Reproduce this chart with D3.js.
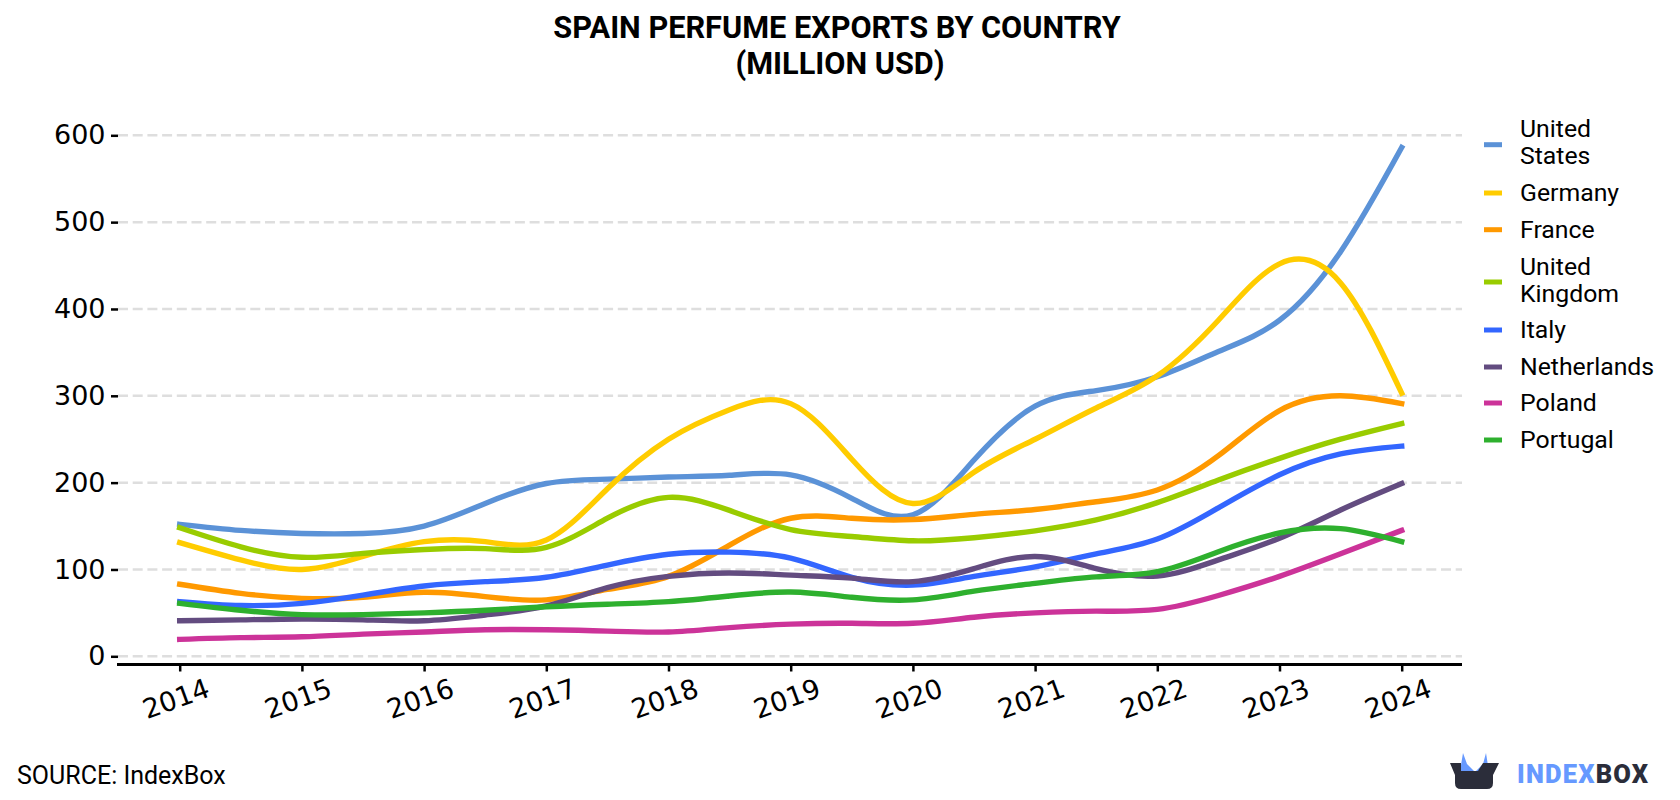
<!DOCTYPE html>
<html>
<head>
<meta charset="utf-8">
<script src="https://cdn.jsdelivr.net/npm/d3@7"></script>
<style>
  html, body { margin: 0; padding: 0; background: #fff; }
  svg { display: block; }
  text { fill: #000; }
</style>
</head>
<body>
<svg id="chart" width="1680" height="800"></svg>
<script>
const years = [2014, 2015, 2016, 2017, 2018, 2019, 2020, 2021, 2022, 2023, 2024];
const yTicks = [0, 100, 200, 300, 400, 500, 600];

// Readings are taken every half year, from 2014 to 2024
const periods = [2014, 2014.5, 2015, 2015.5, 2016, 2016.5, 2017, 2017.5, 2018, 2018.5, 2019,
                 2019.5, 2020, 2020.5, 2021, 2021.5, 2022, 2022.5, 2023, 2023.5, 2024];

const unitedStates  = [152, 145, 141.5, 141.5, 150, 176, 199, 204, 206.5, 208.5, 209, 182, 163, 226, 288, 306, 322, 351, 387, 466, 586];
const germany       = [131, 111, 100, 115, 132, 132, 134, 193, 250, 284, 291, 227, 176, 212, 250, 286, 323, 387, 452, 430, 303];
const france        = [83, 72.5, 66.7, 68, 73.7, 68.7, 65, 77, 92, 128, 159, 159, 157.5, 163.5, 169, 178, 191.5, 231, 283, 300, 291];
const unitedKingdom = [148, 126, 114, 118.5, 123, 124, 125.5, 159, 183, 168, 146, 138, 133, 136.5, 144.5, 157, 177, 203, 228, 250, 268];
const italy         = [63, 58.5, 61, 70.5, 81, 86, 91, 105, 117.5, 120, 113, 91, 82, 92, 103, 118, 135, 171, 209, 233, 242];
const netherlands   = [41, 42, 43, 42, 41, 47.5, 58, 79, 92, 96, 93.5, 90, 86, 101, 115, 101, 92.5, 111, 136, 168.5, 199];
const poland        = [19.5, 21.5, 22.5, 25.5, 28, 30.5, 30.5, 29, 28, 33, 37, 38, 38, 45, 50, 52, 54, 70, 92, 118, 145];
const portugal      = [61, 53, 48, 48, 50, 53, 57, 60, 63, 69.5, 74, 68, 65, 75, 84, 91.5, 97.5, 120.5, 142, 147, 132];

const seriesNames = [["United", "States"], ["Germany"], ["France"], ["United", "Kingdom"],
                     ["Italy"], ["Netherlands"], ["Poland"], ["Portugal"]];
const seriesValues = [unitedStates, germany, france, unitedKingdom, italy, netherlands, poland, portugal];
const seriesColors = ["#5b92d7", "#ffcc00", "#ff9900", "#99cc00", "#3366ff", "#634c80", "#cc3399", "#2eb02e"];

const svg = d3.select("#chart");
const x = d3.scaleLinear().domain([2014, 2024]).range([179.7, 1401.7]);
const y = d3.scaleLinear().domain([0, 600]).range([656.3, 135.3]);
const plotLeft = 117, plotRight = 1462, axisY = 664.5;

const roboto = "Roboto, sans-serif";
const dejavu = "'DejaVu Sans', sans-serif";

// Title
const title = svg.append("text").attr("text-anchor", "middle")
  .attr("font-family", roboto).attr("font-weight", 700).attr("font-size", 30.7);
title.append("tspan").attr("x", 837).attr("y", 38).text("SPAIN PERFUME EXPORTS BY COUNTRY");
title.append("tspan").attr("x", 840).attr("y", 74).text("(MILLION USD)");

// Horizontal grid
svg.append("g").selectAll("line").data(yTicks).join("line")
  .attr("x1", 118).attr("x2", plotRight)
  .attr("y1", d => y(d)).attr("y2", d => y(d))
  .attr("stroke", "#dedede").attr("stroke-width", 2.5).attr("stroke-dasharray", "10 4.7");

// Left axis: ticks and labels only
const yAxis = svg.append("g").attr("transform", "translate(118,0)")
  .call(d3.axisLeft(y).tickValues(yTicks).tickSize(7).tickPadding(5.5).tickFormat(d3.format("d")));
yAxis.select(".domain").remove();
yAxis.selectAll("line").attr("stroke", "#000").attr("stroke-width", 2.5);
yAxis.selectAll("text").attr("font-family", dejavu).attr("font-size", 27).attr("fill", "#000");

// Bottom axis with slanted year labels
const xAxis = svg.append("g").attr("transform", `translate(0,${axisY})`)
  .call(d3.axisBottom(x).tickValues(years).tickSize(7).tickSizeOuter(0).tickFormat(d3.format("d")));
xAxis.select(".domain").attr("d", `M${plotLeft},0H${plotRight}`).attr("stroke", "#000").attr("stroke-width", 2.8);
xAxis.selectAll("line").attr("stroke", "#000").attr("stroke-width", 2.5);
xAxis.selectAll("text")
  .attr("font-family", dejavu).attr("font-size", 27).attr("fill", "#000")
  .attr("text-anchor", "middle").attr("dy", 0).attr("y", 0)
  .attr("transform", "translate(-1,43) rotate(-20)");

// Series lines
const line = d3.line()
  .x((d, i) => x(periods[i]))
  .y(d => y(d))
  .curve(d3.curveNatural);

svg.append("g").selectAll("path").data(seriesValues).join("path")
  .attr("d", line)
  .attr("fill", "none")
  .attr("stroke", (d, i) => seriesColors[i])
  .attr("stroke-width", 5.4)
  .attr("stroke-linecap", "square")
  .attr("stroke-linejoin", "round");

// Legend
const legendRows = [144.7, 193, 229.7, 282, 330, 367, 403, 440];
const legend = svg.append("g").selectAll("g").data(seriesNames).join("g")
  .attr("transform", (d, i) => `translate(0,${legendRows[i]})`);
legend.append("line")
  .attr("x1", 1484).attr("x2", 1502)
  .attr("stroke", (d, i) => seriesColors[i]).attr("stroke-width", 5);
legend.each(function (names) {
  const t = d3.select(this).append("text")
    .attr("font-family", roboto).attr("font-size", 24.8);
  names.forEach((n, k) => {
    t.append("tspan").attr("x", 1520)
      .attr("y", (names.length > 1 ? 6 : 8) + (k - (names.length - 1) / 2) * 27)
      .text(n);
  });
});

// Source note
svg.append("text").attr("x", 17).attr("y", 784)
  .attr("font-family", roboto).attr("font-size", 25).text("SOURCE: IndexBox");

// Brand mark
const brand = svg.append("g");
brand.append("path")
  .attr("d", "M1461,783 V765 L1463,753 L1467,764 L1475,772 L1483,764 L1486,753 L1489,772 L1480,783 Z")
  .attr("fill", "#6699ff");
brand.append("path")
  .attr("d", "M1450,763 H1499 L1493,775 V783 Q1493,789 1487,789 H1461 Q1455,789 1455,783 V775 Z M1461,771 H1478 L1483,763 H1461 Z")
  .attr("fill", "#2b2d3a").attr("fill-rule", "evenodd");
const wordmark = svg.append("text").attr("x", 1517).attr("y", 783)
  .attr("font-family", roboto).attr("font-weight", 900).attr("font-size", 25.5).attr("letter-spacing", 1.2);
wordmark.append("tspan").attr("fill", "#6699ff").text("INDEX");
wordmark.append("tspan").attr("fill", "#2b2d3a").text("BOX");
</script>
</body>
</html>
